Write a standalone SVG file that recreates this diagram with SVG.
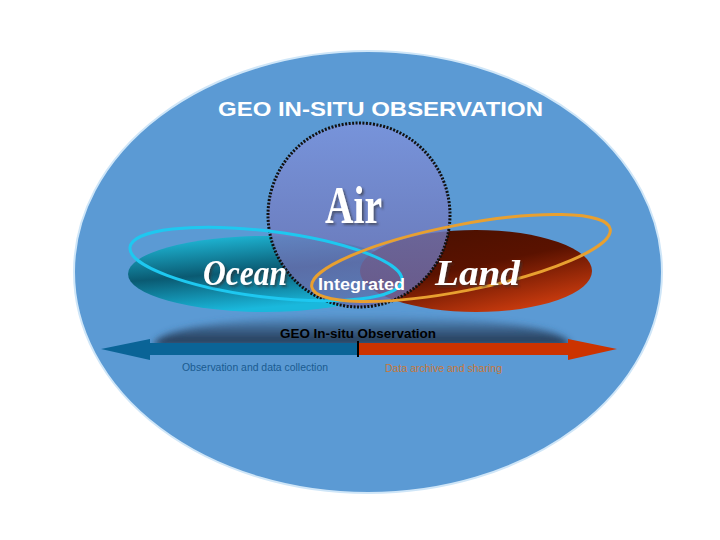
<svg xmlns="http://www.w3.org/2000/svg" width="720" height="540" viewBox="0 0 720 540">
<style>
.title{font-family:"Liberation Sans",Arial,sans-serif;font-weight:bold;fill:#ffffff}
.big{font-family:"Liberation Serif","Times New Roman",serif;font-weight:bold;fill:#ffffff}
.sub{font-family:"Liberation Sans",Arial,sans-serif}
</style>
<defs>
<linearGradient id="oceanG" x1="0" y1="0" x2="0.3" y2="1">
<stop offset="0" stop-color="#22c8e8"/>
<stop offset="0.55" stop-color="#0a5a72"/>
<stop offset="1" stop-color="#1ab8dc"/>
</linearGradient>
<linearGradient id="landG" x1="0.2" y1="0" x2="0.8" y2="1">
<stop offset="0" stop-color="#4a1000"/>
<stop offset="0.45" stop-color="#5a1200"/>
<stop offset="1" stop-color="#d84010"/>
</linearGradient>
<linearGradient id="airG" x1="0" y1="0" x2="0" y2="1">
<stop offset="0" stop-color="#7e92dc"/>
<stop offset="1" stop-color="#6a6aaa"/>
</linearGradient>
<linearGradient id="shadowG" x1="0" y1="0" x2="0" y2="1">
<stop offset="0" stop-color="#4a78a8" stop-opacity="0.3"/>
<stop offset="0.45" stop-color="#34557a" stop-opacity="0.85"/>
<stop offset="1" stop-color="#1e3048" stop-opacity="1"/>
</linearGradient>
<filter id="blur" x="-10%" y="-50%" width="120%" height="200%">
<feGaussianBlur stdDeviation="3.5"/>
</filter>
<filter id="sh" x="-20%" y="-20%" width="140%" height="140%">
<feDropShadow dx="2" dy="2" stdDeviation="0.8" flood-color="#333" flood-opacity="0.6"/>
</filter>
</defs>
<rect width="720" height="540" fill="#ffffff"/>
<g id="background">
<ellipse cx="368" cy="272" rx="294" ry="221" fill="#5b9ad4" stroke="#cfe6f8" stroke-width="2"/>
<text class="title" x="218" y="116" font-size="20" textLength="325" lengthAdjust="spacingAndGlyphs">GEO IN-SITU OBSERVATION</text>
</g>
<g id="ocean">
<ellipse cx="265" cy="274" rx="137" ry="38" fill="url(#oceanG)"/>
</g>
<g id="land">
<ellipse cx="476" cy="271" rx="116" ry="41" fill="url(#landG)"/>
</g>
<g id="air">
<ellipse cx="359" cy="215" rx="91" ry="92" fill="url(#airG)" fill-opacity="0.8" stroke="#111" stroke-width="3" stroke-dasharray="2 1.5"/>
<text class="big" x="325" y="223" font-size="52" textLength="57" lengthAdjust="spacingAndGlyphs" filter="url(#sh)">Air</text>
</g>
<g id="rings">
<ellipse cx="266" cy="264" rx="137" ry="33" transform="rotate(7 266 264)" fill="none" stroke="#1ec8f0" stroke-width="3"/>
<ellipse cx="461" cy="258" rx="152" ry="33" transform="rotate(-11 461 258)" fill="none" stroke="#e8a030" stroke-width="3"/>
</g>
<g id="labels">
<text class="big" x="203" y="285" font-size="35" font-style="italic" textLength="84" lengthAdjust="spacingAndGlyphs" filter="url(#sh)">Ocean</text>
<text class="big" x="435" y="285" font-size="35" font-style="italic" textLength="85" lengthAdjust="spacingAndGlyphs" filter="url(#sh)">Land</text>
<text class="title" x="318" y="290" font-size="17" textLength="87" lengthAdjust="spacingAndGlyphs">Integrated</text>
</g>
<g id="timeline">
<path d="M154,346 C154,306 570,306 570,346 Z" fill="url(#shadowG)" filter="url(#blur)"/>
<polygon points="101,349 150,339 150,343 358,343 358,355 150,355 150,360" fill="#0a6497"/>
<polygon points="617,349 568,339 568,343 358,343 358,355 568,355 568,360" fill="#cc3300"/>
<line x1="358" y1="341" x2="358" y2="357" stroke="#000" stroke-width="2"/>
<text class="sub" x="280" y="338" font-size="13" font-weight="bold" fill="#000" textLength="156" lengthAdjust="spacingAndGlyphs">GEO In-situ Observation</text>
<text class="sub" x="182" y="371" font-size="10" fill="#1a5a90" textLength="146" lengthAdjust="spacingAndGlyphs">Observation and data collection</text>
<text class="sub" x="385" y="372" font-size="10" fill="#c87838" textLength="117" lengthAdjust="spacingAndGlyphs">Data archive and sharing</text>
</g>
</svg>
